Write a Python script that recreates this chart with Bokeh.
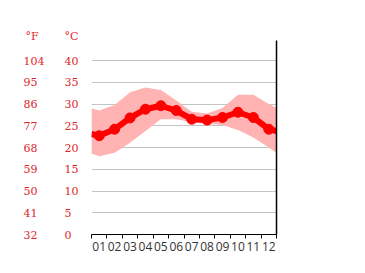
from bokeh.plotting import figure
from bokeh.models import FixedTicker, LinearAxis, Range1d
from bokeh.layouts import row
from bokeh.core.properties import value
from bokeh.embed import file_html
from bokeh.resources import INLINE

months = ["01", "02", "03", "04", "05", "06", "07", "08", "09", "10", "11", "12"]
temp_mean = [22.7, 24.2, 26.8, 28.8, 29.6, 28.5, 26.5, 26.3, 26.9, 28.1, 26.9, 24.2]
temp_high = [28.5, 29.8, 32.7, 33.8, 33.2, 30.8, 28.2, 27.8, 29.1, 32.1, 32.1, 30.0]
temp_low = [18.0, 18.8, 21.1, 23.8, 26.5, 26.5, 25.8, 25.4, 25.2, 24.0, 22.3, 20.0]
# values at the left and right edges of the chart (start, end)
edge_mean = [23.1, 23.8]
edge_high = [29.0, 29.1]
edge_low = [18.6, 18.8]
celsius_ticks = [0, 5, 10, 15, 20, 25, 30, 35, 40]
fahrenheit_ticks = [32, 41, 50, 59, 68, 77, 86, 95, 104]
unit_labels = ["°F", "°C"]

n = len(months)
centers = [i + 0.5 for i in range(n)]
xs_full = [0] + centers + [n]
mean_full = [edge_mean[0]] + temp_mean + [edge_mean[1]]
high_full = [edge_high[0]] + temp_high + [edge_high[1]]
low_full = [edge_low[0]] + temp_low + [edge_low[1]]

H = 273
TOP, BOTTOM = 40, 39
LEFT_W = 91
Y_END = 44.6
frame_h = H - TOP - BOTTOM
deg_px = frame_h / Y_END

p = figure(width=365 - LEFT_W, height=H, output_backend="svg", toolbar_location=None,
           x_range=(0, n), y_range=(0, Y_END),
           min_border_left=0, min_border_right=89, min_border_top=TOP, min_border_bottom=BOTTOM)
p.frame_align = False
p.outline_line_color = None
p.background_fill_color = "white"
p.border_fill_color = "white"

p.yaxis.visible = False
p.ygrid.ticker = FixedTicker(ticks=celsius_ticks[1:])
p.ygrid.grid_line_color = "#c4c4c4"
p.ygrid.grid_line_width = 1
p.xgrid.visible = False

xa = p.xaxis[0]
xa.ticker = FixedTicker(ticks=centers, minor_ticks=list(range(n + 1)))
xa.major_label_overrides = {c: m for c, m in zip(centers, months)}
xa.major_tick_line_color = None
xa.major_tick_in = 0
xa.major_tick_out = 0
xa.minor_tick_line_color = "black"
xa.minor_tick_in = 0
xa.minor_tick_out = 4
xa.axis_line_color = "black"
xa.axis_line_width = 1
xa.major_label_text_font = "Open Sans"
xa.major_label_text_font_size = "12px"
xa.major_label_text_color = "#333333"
xa.major_label_standoff = 3

ra = LinearAxis(ticker=FixedTicker(ticks=[]), axis_line_color="black", axis_line_width=1.5,
                major_tick_line_color=None, minor_tick_line_color=None,
                major_label_text_font_size="0px")
p.add_layout(ra, "right")

p.varea(x=xs_full, y1=low_full, y2=high_full, fill_color="#ffb3b3", fill_alpha=1)
p.line(x=xs_full, y=mean_full, line_color="red", line_width=6, line_join="round")
p.scatter(x=centers, y=temp_mean, size=10, color="red")

# left label panel, same vertical scale as the main plot
y0 = -BOTTOM / deg_px
left = figure(width=LEFT_W, height=H, output_backend="svg", toolbar_location=None,
              x_range=Range1d(0, LEFT_W), y_range=Range1d(y0, y0 + H / deg_px),
              min_border=0)
left.frame_align = False
left.axis.visible = False
left.grid.visible = False
left.outline_line_color = None
left.border_fill_color = "white"
left.background_fill_color = "white"

lab_color = "#e0262b"
style = dict(text_font=value("DejaVu Serif"), text_font_size="11px", text_color=lab_color,
             text_align="left", text_baseline="middle")
left.text(x=[23] * len(fahrenheit_ticks), y=celsius_ticks,
          text=[str(v) for v in fahrenheit_ticks], **style)
left.text(x=[64] * len(celsius_ticks), y=celsius_ticks,
          text=[str(v) for v in celsius_ticks], **style)
header_y = (H - 36 - BOTTOM) / deg_px
left.text(x=[25, 64], y=[header_y, header_y], text=unit_labels, **style)

layout = row(left, p, spacing=0)
open("out.html", "w").write(file_html(layout, INLINE))
